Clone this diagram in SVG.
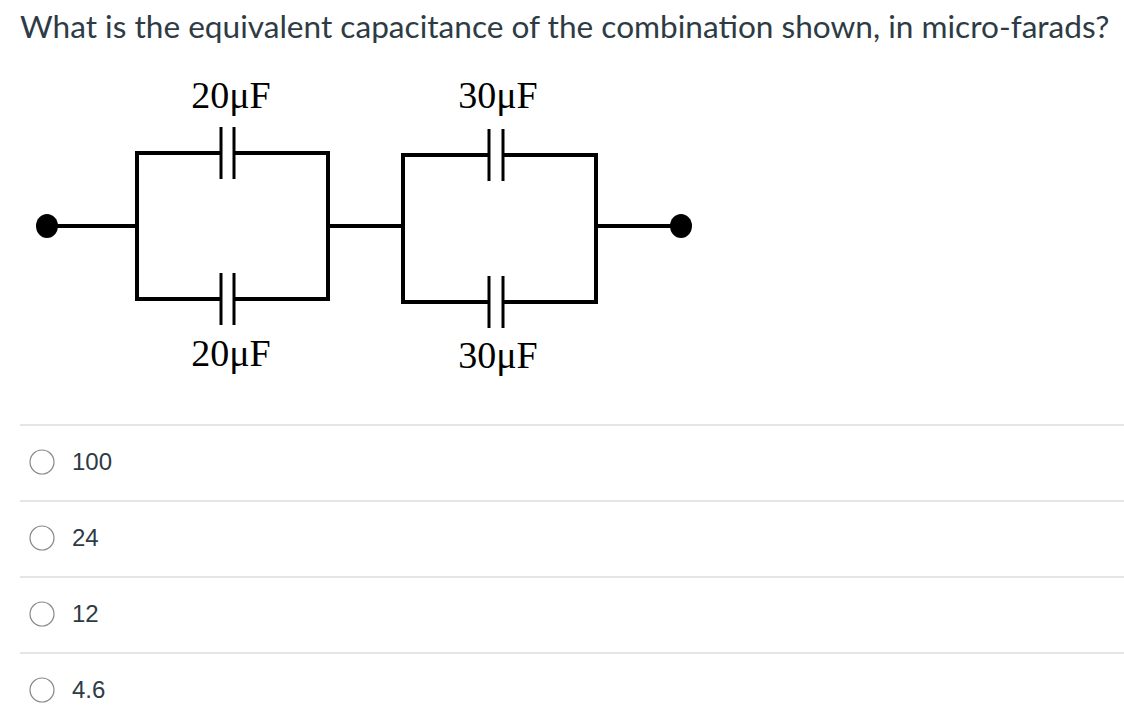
<svg xmlns="http://www.w3.org/2000/svg" width="1124" height="728" viewBox="0 0 1124 728">
<style>
.w{fill:none;stroke:#000;stroke-width:4}
.p{stroke:#000;stroke-width:3}
.lbl{font-family:"Liberation Serif",serif;font-size:38px;text-anchor:middle}
.q{font-family:Lato,sans-serif;font-size:31.6px;fill:#2d3b45}
.opt{font-family:"Liberation Sans",Arial,sans-serif;font-size:24px;fill:#2d3b45}
.sep{stroke:#c7cdd1;stroke-width:1}
.rb{fill:#fff;stroke:#888;stroke-width:1.2}
</style>
<rect width="1124" height="728" fill="#fff"/>
<text class="q" x="20" y="38">What is the equivalent capacitance of the combination shown, in micro-farads?</text>
<g id="connectors">
<line class="w" x1="46" y1="226" x2="137" y2="226"/>
<polyline class="w" points="221,153 137,153 137,299 221,299"/>
<polyline class="w" points="234,153 328,153 328,299 234,299"/>
<line class="w" x1="328" y1="226" x2="403" y2="226"/>
<polyline class="w" points="489,155 403,155 403,302 489,302"/>
<polyline class="w" points="503,155 596,155 596,302 503,302"/>
<line class="w" x1="596" y1="226" x2="681" y2="226"/>
</g>
<g id="c1"><line class="p" x1="221" y1="127" x2="221" y2="179"/><line class="p" x1="234" y1="127" x2="234" y2="179"/><text class="lbl" x="231" y="108">20μF</text></g>
<g id="c2"><line class="p" x1="221" y1="273" x2="221" y2="325"/><line class="p" x1="234" y1="273" x2="234" y2="325"/><text class="lbl" x="231" y="366">20μF</text></g>
<g id="c3"><line class="p" x1="489" y1="129" x2="489" y2="181"/><line class="p" x1="503" y1="129" x2="503" y2="181"/><text class="lbl" x="498" y="108">30μF</text></g>
<g id="c4"><line class="p" x1="489" y1="276" x2="489" y2="328"/><line class="p" x1="503" y1="276" x2="503" y2="328"/><text class="lbl" x="498" y="368">30μF</text></g>
<g id="t1"><ellipse cx="47" cy="226" rx="11" ry="12"/></g>
<g id="t2"><ellipse cx="681" cy="226" rx="11" ry="12"/></g>
<g id="options">
<line class="sep" x1="20" y1="425" x2="1124" y2="425"/>
<line class="sep" x1="20" y1="501" x2="1124" y2="501"/>
<line class="sep" x1="20" y1="577" x2="1124" y2="577"/>
<line class="sep" x1="20" y1="653" x2="1124" y2="653"/>
<circle class="rb" cx="42" cy="462" r="12"/><text class="opt" x="72" y="470">100</text>
<circle class="rb" cx="42" cy="538" r="12"/><text class="opt" x="72" y="546">24</text>
<circle class="rb" cx="42" cy="614" r="12"/><text class="opt" x="72" y="622">12</text>
<circle class="rb" cx="42" cy="690" r="12"/><text class="opt" x="72" y="698">4.6</text>
</g>
</svg>
